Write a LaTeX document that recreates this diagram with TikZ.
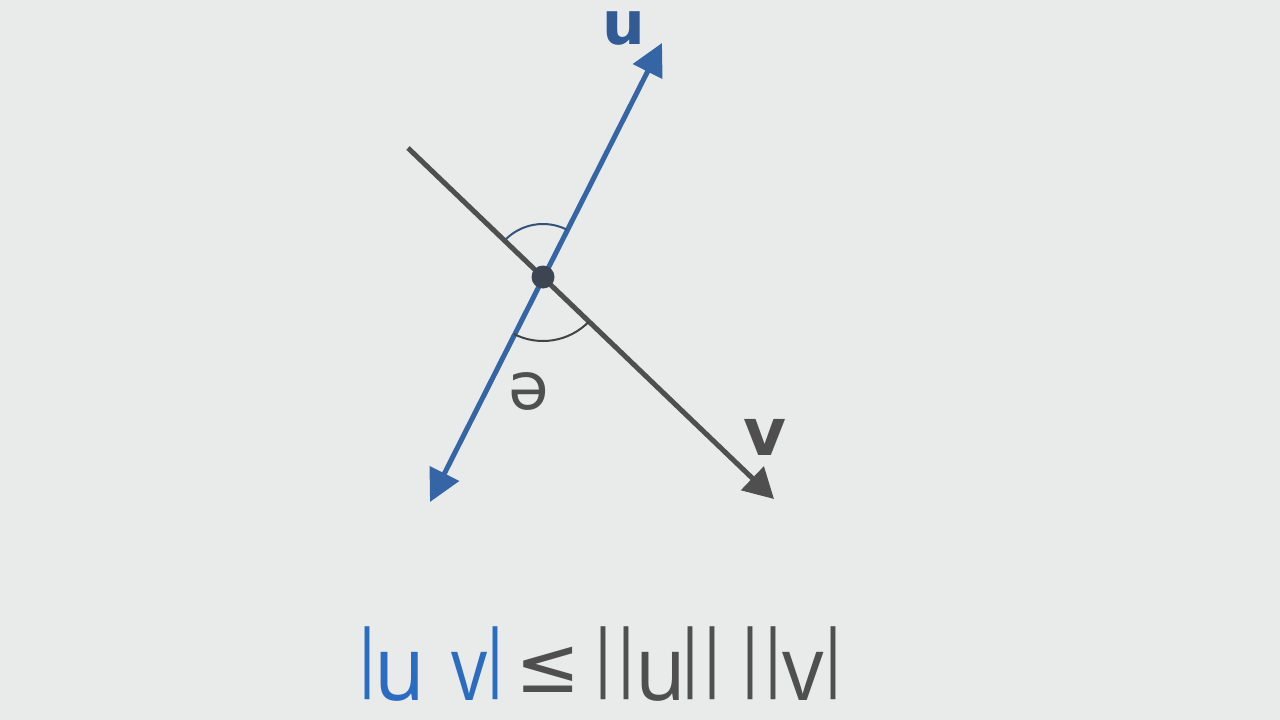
\documentclass[tikz,border=0pt]{standalone}
\usepackage{fontspec}
\setmainfont{Open Sans}
\newfontfamily\dv{DejaVu Sans}
\usetikzlibrary{arrows.meta}
\definecolor{bg}{HTML}{E9EAEA}
\definecolor{ublue}{HTML}{3565A5}
\definecolor{fblue}{HTML}{2B6CC0}
\definecolor{vgray}{HTML}{4F4F4F}
\definecolor{dotc}{HTML}{3D4553}
\definecolor{arcblue}{HTML}{34527A}
\newcommand\mybar{\raisebox{17.2pt}{\scalebox{0.6}[1]{\dv\bfseries\fontsize{73}{73}\selectfont|}}}
\newcommand\cgl[1]{\makebox[0pt]{#1}}
\newcommand\narrowgl[1]{\scalebox{0.92}[1]{#1}}
\tikzset{
  glyph/.style={inner sep=0pt, outer sep=0pt, anchor=center},
  formula/.style={inner sep=0pt, outer sep=0pt, anchor=base west, font=\fontsize{90}{90}\selectfont},
  vecline/.style={line width=5pt},
}
\begin{document}
\begin{tikzpicture}[x=1pt,y=-1pt]
\fill[bg] (0,0) rectangle (1280,720);
\useasboundingbox (0,0) rectangle (1280,720);
% coordinates
\coordinate (c) at (543,277);
\coordinate (utip) at (662,43);
\coordinate (utip2) at (430,502);
\coordinate (vstart) at (408,148);
\coordinate (vtip) at (774,499);
% gray vector v
\draw[vecline, vgray, -{Triangle[length=30pt,width=32pt]}] (vstart) -- (vtip);
% blue vector u
\draw[vecline, ublue, {Triangle[length=32pt,width=32pt]}-{Triangle[length=32pt,width=32pt]}] (utip2) -- (utip);
% angle arcs
\draw[arcblue, line width=2pt] (c) ++(-136:53) arc[start angle=-136, end angle=-63, radius=53];
\draw[vgray!85!black, line width=2pt] (c) ++(44:64) arc[start angle=44, end angle=117, radius=64];
% center dot
\node[circle, fill=dotc, minimum size=23pt, inner sep=0pt] (dot) at (c) {};
% labels
\node[glyph, text=ublue!90!black, font=\dv\bfseries\fontsize{60}{60}\selectfont] (ulabel) at (624,29) {u};
\node[glyph, text=vgray, font=\dv\bfseries\fontsize{66}{66}\selectfont] (vlabel) at (765,437) {v};
\node[glyph, text=vgray, font=\dv\fontsize{66}{66}\selectfont] (theta) at (529,391) {ə};
% formula
\node[formula, text=fblue] (lhs) at (367,700) {\cgl{\mybar}\hspace{32.5pt}\cgl{\narrowgl{u}}\hspace{70.5pt}\cgl{\scalebox{0.8}[1]{v}}\hspace{25pt}\cgl{\mybar}};
\node[glyph, text=vgray, font=\dv\fontsize{78}{78}\selectfont] (le) at (548,670) {≤};
\node[formula, text=vgray] (rhs) at (603,700) {\cgl{\mybar}\hspace{23pt}\cgl{\mybar}\hspace{35pt}\cgl{\narrowgl{u}}\hspace{29pt}\cgl{\mybar}\hspace{22pt}\cgl{\mybar}\hspace{38pt}\cgl{\mybar}\hspace{23pt}\cgl{\mybar}\hspace{30.5pt}\cgl{\narrowgl{v}}\hspace{29.5pt}\cgl{\mybar}};
\end{tikzpicture}
\end{document}
